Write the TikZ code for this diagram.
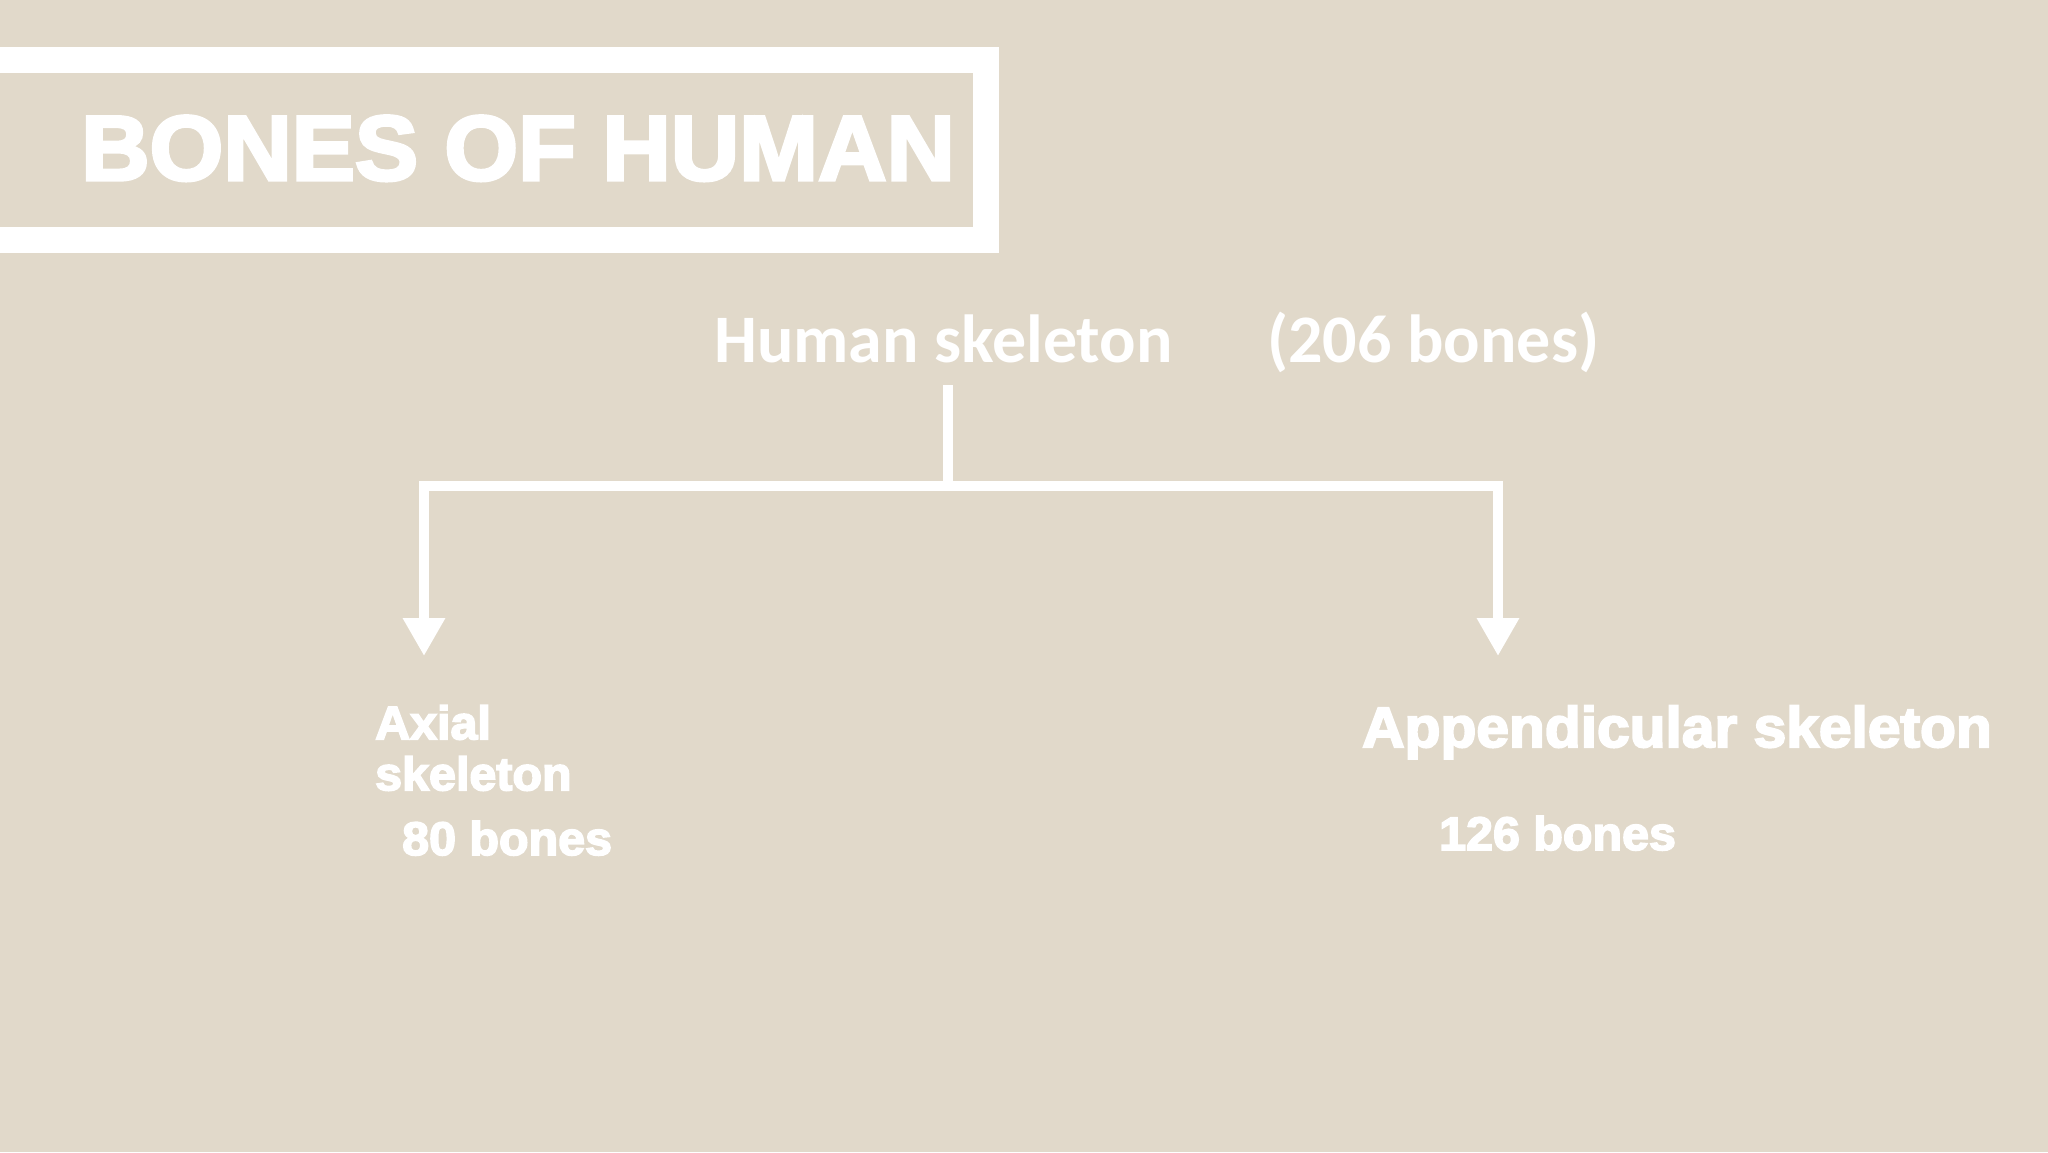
\documentclass[tikz,border=0pt]{standalone}
\usepackage{fontspec}
\setmainfont{Liberation Sans}
\newfontfamily\heavy[FakeBold=3.5,FakeStretch=1.03]{Liberation Sans Bold}
\newfontfamily\calib{Carlito Bold}
\usetikzlibrary{arrows.meta}
\definecolor{bgbeige}{RGB}{225,217,202}
\begin{document}
\begin{tikzpicture}[x=1pt,y=-1pt,
  txt/.style={inner sep=0pt,text=white},
  link/.style={draw=white,line width=10pt},
  arr/.style={link,-{Triangle[width=40pt,length=38pt]}}]
\fill[bgbeige] (0,0) rectangle (2048,1152);
\useasboundingbox (0,0) rectangle (2048,1152);
% title frame
\draw[white,line width=26pt] (-20,60) rectangle (986,240);
\node[txt,anchor=base west,font=\heavy\fontsize{92}{92}\selectfont] (title) at (81,180) {BONES OF HUMAN};
% root
\node[txt,anchor=base west,font=\calib\fontsize{68}{68}\selectfont] (root) at (714,362) {Human skeleton};
\node[txt,anchor=base west,font=\calib\fontsize{68}{68}\selectfont] (total) at (1267,362) {(206 bones)};
% children
\node[txt,anchor=north west,align=left,font=\heavy\fontsize{47}{51}\selectfont] (axial) at (375,705) {Axial\\skeleton};
\node[txt,anchor=base west,font=\heavy\fontsize{47}{47}\selectfont] (axialn) at (402,855) {80 bones};
\node[txt,anchor=base west,font=\heavy\fontsize{57}{57}\selectfont] (app) at (1362,747) {Appendicular skeleton};
\node[txt,anchor=base west,font=\heavy\fontsize{47}{47}\selectfont] (appn) at (1439,850) {126 bones};
% connectors
\coordinate (stemtop) at (948,385);
\coordinate (junction) at (948,486);
\coordinate (cornerL) at (424,486);
\coordinate (cornerR) at (1498,486);
\coordinate (tipL) at (424,656);
\coordinate (tipR) at (1498,656);
\draw[link] (stemtop) -- (junction);
\draw[link] ([xshift=-5pt]cornerL) -- ([xshift=5pt]cornerR);
\draw[arr] (cornerL) -- (tipL);
\draw[arr] (cornerR) -- (tipR);
\end{tikzpicture}
\end{document}
